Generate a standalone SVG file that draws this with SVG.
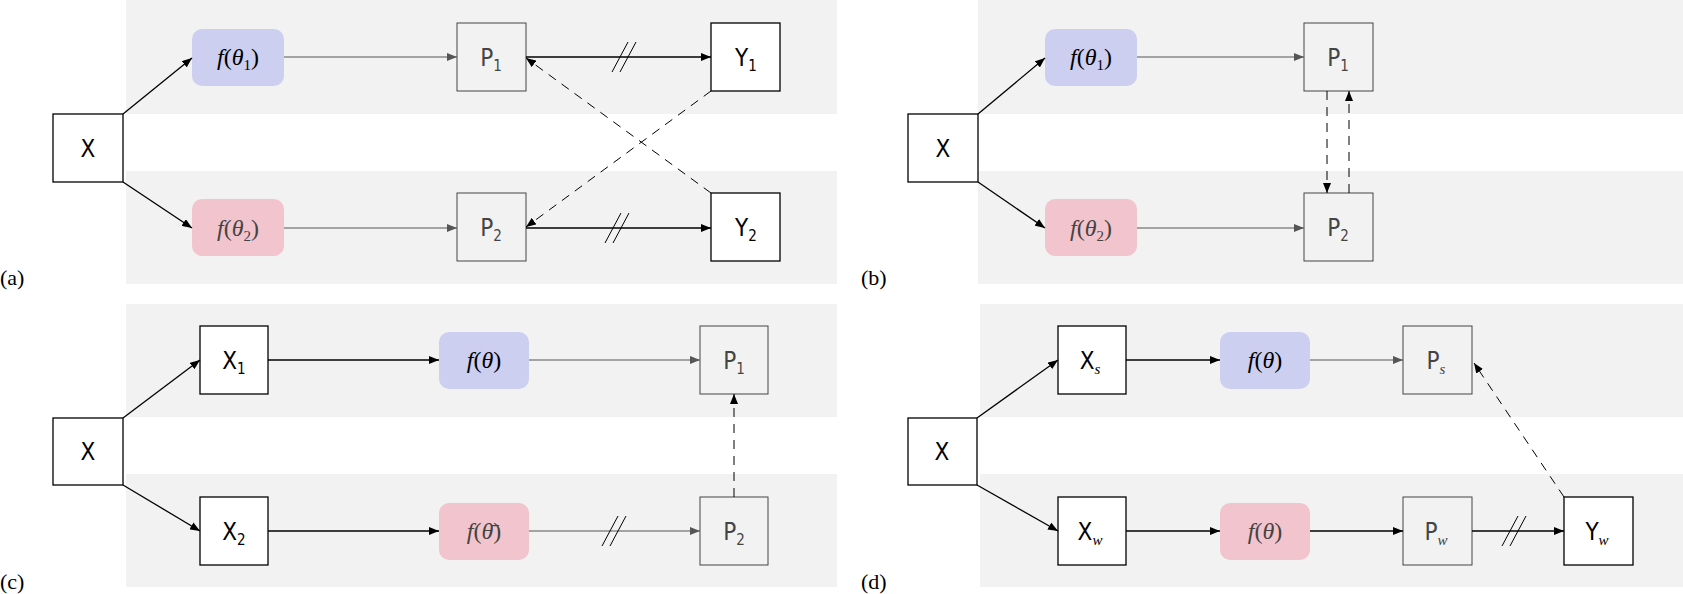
<svg xmlns="http://www.w3.org/2000/svg" width="1683" height="594" viewBox="0 0 1683 594">
<style>
.bg{fill:#f2f2f2}
.bk{fill:#fff;stroke:#000;stroke-width:1.3}
.gb{fill:#f2f2f2;stroke:#444;stroke-width:1}
.fb{fill:#cdcff0}.fr{fill:#f2c4cd}
.s{font-family:"DejaVu Sans Condensed","Liberation Sans",sans-serif;font-size:24px;text-anchor:middle}
.g{fill:#444}
.m{font-family:"Liberation Serif",serif;font-size:24px;text-anchor:middle}
.sub{font-size:15px}
.lbl{font-family:"Liberation Serif",serif;font-size:22px}
.a{stroke:#000;stroke-width:1.3;fill:none;marker-end:url(#ab)}
.ag{stroke:#555;stroke-width:1;fill:none;marker-end:url(#ag)}
.d{stroke:#000;stroke-width:1;fill:none;stroke-dasharray:9,7;marker-end:url(#ab)}
.t{stroke:#000;stroke-width:1;fill:none}
</style>
<defs>
<marker id="ab" markerWidth="10" markerHeight="8" refX="10" refY="4" orient="auto" markerUnits="userSpaceOnUse"><path d="M0,0 L10,4 L0,8 z" fill="#000"/></marker>
<marker id="ag" markerWidth="10" markerHeight="8" refX="10" refY="4" orient="auto" markerUnits="userSpaceOnUse"><path d="M0,0 L10,4 L0,8 z" fill="#555"/></marker>
</defs>
<g id="backgrounds">
<rect class="bg" x="126" y="0" width="711" height="114"/><rect class="bg" x="126" y="171" width="711" height="113"/>
<rect class="bg" x="978" y="0" width="705" height="114"/><rect class="bg" x="978" y="171" width="705" height="113"/>
<rect class="bg" x="126" y="304" width="711" height="113"/><rect class="bg" x="126" y="474" width="711" height="113"/>
<rect class="bg" x="980" y="304" width="703" height="113"/><rect class="bg" x="980" y="474" width="703" height="113"/>
</g>
<g id="labels" class="lbl"><text x="0" y="285">(a)</text><text x="861" y="285">(b)</text><text x="0" y="589">(c)</text><text x="861" y="589">(d)</text></g>
<!-- (a) -->
<g id="a-X"><rect class="bk" x="53" y="114" width="70" height="68"/><text class="s" x="88" y="157">X</text></g>
<g id="a-f1"><rect class="fb" x="192" y="29" width="92" height="57" rx="10"/><text class="m" x="238" y="65"><tspan font-style="italic">f</tspan>(<tspan font-style="italic">θ</tspan><tspan class="sub" dy="5">1</tspan><tspan dy="-5">)</tspan></text></g>
<g id="a-f2"><rect class="fr" x="192" y="199" width="92" height="57" rx="10"/><text class="m g" x="238" y="236"><tspan font-style="italic">f</tspan>(<tspan font-style="italic">θ</tspan><tspan class="sub" dy="5">2</tspan><tspan dy="-5">)</tspan></text></g>
<g id="a-P1"><rect class="gb" x="457" y="23" width="69" height="68"/><text class="s g" x="491" y="66">P<tspan class="sub" dy="5">1</tspan></text></g>
<g id="a-P2"><rect class="gb" x="457" y="193" width="69" height="68"/><text class="s g" x="491" y="236">P<tspan class="sub" dy="5">2</tspan></text></g>
<g id="a-Y1"><rect class="bk" x="711" y="23" width="69" height="68"/><text class="s" x="746" y="66">Y<tspan class="sub" dy="5">1</tspan></text></g>
<g id="a-Y2"><rect class="bk" x="711" y="193" width="69" height="68"/><text class="s" x="746" y="236">Y<tspan class="sub" dy="5">2</tspan></text></g>
<!-- (b) -->
<g id="b-X"><rect class="bk" x="908" y="114" width="70" height="68"/><text class="s" x="943" y="157">X</text></g>
<g id="b-f1"><rect class="fb" x="1045" y="29" width="92" height="57" rx="10"/><text class="m" x="1091" y="65"><tspan font-style="italic">f</tspan>(<tspan font-style="italic">θ</tspan><tspan class="sub" dy="5">1</tspan><tspan dy="-5">)</tspan></text></g>
<g id="b-f2"><rect class="fr" x="1045" y="199" width="92" height="57" rx="10"/><text class="m g" x="1091" y="236"><tspan font-style="italic">f</tspan>(<tspan font-style="italic">θ</tspan><tspan class="sub" dy="5">2</tspan><tspan dy="-5">)</tspan></text></g>
<g id="b-P1"><rect class="gb" x="1304" y="23" width="69" height="68"/><text class="s g" x="1338" y="66">P<tspan class="sub" dy="5">1</tspan></text></g>
<g id="b-P2"><rect class="gb" x="1304" y="193" width="69" height="68"/><text class="s g" x="1338" y="236">P<tspan class="sub" dy="5">2</tspan></text></g>
<!-- (c) -->
<g id="c-X"><rect class="bk" x="53" y="418" width="70" height="67"/><text class="s" x="88" y="460">X</text></g>
<g id="c-X1"><rect class="bk" x="200" y="326" width="68" height="68"/><text class="s" x="234" y="369">X<tspan class="sub" dy="5">1</tspan></text></g>
<g id="c-X2"><rect class="bk" x="200" y="497" width="68" height="68"/><text class="s" x="234" y="540">X<tspan class="sub" dy="5">2</tspan></text></g>
<g id="c-f"><rect class="fb" x="439" y="332" width="90" height="57" rx="10"/><text class="m" x="484" y="368"><tspan font-style="italic">f</tspan>(<tspan font-style="italic">θ</tspan>)</text></g>
<g id="c-fbar"><rect class="fr" x="439" y="503" width="90" height="57" rx="10"/><text class="m g" x="484" y="539"><tspan font-style="italic">f</tspan>(<tspan font-style="italic">θ̄</tspan>)</text></g>
<g id="c-P1"><rect class="gb" x="700" y="326" width="68" height="68"/><text class="s g" x="734" y="369">P<tspan class="sub" dy="5">1</tspan></text></g>
<g id="c-P2"><rect class="gb" x="700" y="497" width="68" height="68"/><text class="s g" x="734" y="540">P<tspan class="sub" dy="5">2</tspan></text></g>
<!-- (d) -->
<g id="d-X"><rect class="bk" x="908" y="418" width="69" height="67"/><text class="s" x="942" y="460">X</text></g>
<g id="d-Xs"><rect class="bk" x="1058" y="326" width="68" height="68"/><text class="s" x="1090" y="369">X<tspan class="sub" font-family="Liberation Serif" font-style="italic" dy="5">s</tspan></text></g>
<g id="d-Xw"><rect class="bk" x="1058" y="497" width="68" height="68"/><text class="s" x="1090" y="540">X<tspan class="sub" font-family="Liberation Serif" font-style="italic" dy="5">w</tspan></text></g>
<g id="d-fs"><rect class="fb" x="1220" y="332" width="90" height="57" rx="10"/><text class="m" x="1265" y="368"><tspan font-style="italic">f</tspan>(<tspan font-style="italic">θ</tspan>)</text></g>
<g id="d-fw"><rect class="fr" x="1220" y="503" width="90" height="57" rx="10"/><text class="m g" x="1265" y="539"><tspan font-style="italic">f</tspan>(<tspan font-style="italic">θ</tspan>)</text></g>
<g id="d-Ps"><rect class="gb" x="1403" y="326" width="69" height="68"/><text class="s g" x="1436" y="369">P<tspan class="sub" font-family="Liberation Serif" font-style="italic" dy="5">s</tspan></text></g>
<g id="d-Pw"><rect class="gb" x="1403" y="497" width="69" height="68"/><text class="s g" x="1436" y="540">P<tspan class="sub" font-family="Liberation Serif" font-style="italic" dy="5">w</tspan></text></g>
<g id="d-Yw"><rect class="bk" x="1564" y="497" width="69" height="68"/><text class="s" x="1597" y="540">Y<tspan class="sub" font-family="Liberation Serif" font-style="italic" dy="5">w</tspan></text></g>
<g id="connectors">
<!-- a -->
<path class="a" d="M123,114 L192,58"/><path class="a" d="M123,182 L192,228"/>
<path class="ag" d="M284,57 L457,57"/><path class="ag" d="M284,228 L457,228"/>
<path class="a" d="M526,57 L711,57"/><path class="a" d="M526,228 L711,228"/>
<path class="t" d="M612,72 L628,42 M620,72 L636,42"/><path class="t" d="M605,243 L621,213 M613,243 L629,213"/>
<path class="d" d="M711,193 L526,58"/><path class="d" d="M711,91 L526,227"/>
<!-- b -->
<path class="a" d="M978,114 L1045,58"/><path class="a" d="M978,182 L1045,228"/>
<path class="ag" d="M1137,57 L1304,57"/><path class="ag" d="M1137,228 L1304,228"/>
<path class="d" d="M1327,91 L1327,193"/><path class="d" d="M1349,193 L1349,91"/>
<!-- c -->
<path class="a" d="M123,418 L200,360"/><path class="a" d="M123,485 L200,531"/>
<path class="a" d="M268,360 L439,360"/><path class="a" d="M268,531 L439,531"/>
<path class="ag" d="M529,360 L700,360"/><path class="ag" d="M529,531 L700,531"/>
<path class="t" d="M602,546 L618,516 M610,546 L626,516"/>
<path class="d" d="M734,497 L734,394"/>
<!-- d -->
<path class="a" d="M977,418 L1058,360"/><path class="a" d="M977,485 L1058,531"/>
<path class="a" d="M1126,360 L1220,360"/><path class="a" d="M1126,531 L1220,531"/>
<path class="ag" d="M1310,360 L1403,360"/><path class="a" d="M1310,531 L1403,531"/>
<path class="a" d="M1472,531 L1564,531"/>
<path class="t" d="M1502,546 L1518,516 M1510,546 L1526,516"/>
<path class="d" d="M1564,497 L1474,363"/>
</g>
</svg>
